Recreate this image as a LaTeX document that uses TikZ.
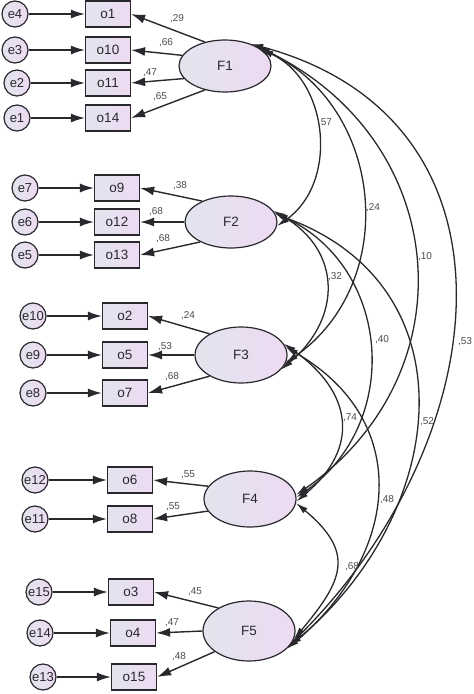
\documentclass[tikz,border=0pt]{standalone}
\usepackage{fontspec}
\setmainfont{Liberation Sans}
\usetikzlibrary{arrows.meta,
                shapes.geometric}

\definecolor{fillleft}{RGB}{226,228,238}
\definecolor{fillright}{RGB}{238,218,242}
\definecolor{inkgray}{RGB}{40,40,45}
\definecolor{labgray}{RGB}{75,75,80}

\begin{document}
\begin{tikzpicture}[x = 1pt, y = 1pt,
    err/.style = {draw=inkgray, circle, line width=1.2pt, minimum size=26pt, inner sep=0pt,
                  left color=fillleft, right color=fillright, text=inkgray,
                  font=\fontsize{13}{15}\selectfont},
    obs/.style = {draw=inkgray, rectangle, line width=1.2pt, minimum width=45pt, minimum height=26pt,
                  inner sep=0pt, left color=fillleft, right color=fillright, text=inkgray,
                  font=\fontsize{13.5}{15}\selectfont},
    lat/.style = {draw=inkgray, ellipse, line width=1.2pt, minimum width=92pt, minimum height=52pt,
                  inner sep=0pt, left color=fillleft, right color=fillright, text=inkgray,
                  font=\fontsize{13.5}{15}\selectfont},
    ldg/.style = {-{Latex[length=14pt,width=9pt]}, line width=1.4pt, draw=inkgray},
    cov/.style = {{Latex[length=12pt,width=6.5pt]}-{Latex[length=12pt,width=6.5pt]},
                  line width=1.3pt, draw=inkgray},
    lbl/.style = {font=\fontsize{10}{12}\selectfont, text=labgray, inner sep=0pt}]
\useasboundingbox (0,0) rectangle (474,-694);

% latent factors
\node (F1) [lat] at (225,-66) {F1};
\node (F2) [lat] at (231,-222) {F2};
\node (F3) [lat, minimum height=56pt] at (241,-355) {F3};
\node (F4) [lat, minimum height=56pt] at (250,-499) {F4};
\node (F5) [lat, minimum height=60pt] at (249,-631) {F5};

% items and their errors
\foreach \e/\ex/\o/\ox/\y in {e4/15/o1/108/14, e3/15/o10/108/50, e2/17/o11/108/83, e1/17/o14/108/118,
                              e7/25/o9/117/188, e6/25/o12/117/222, e5/25/o13/117/255,
                              e10/33/o2/125/316, e9/33/o5/125/355, e8/33/o7/125/393,
                              e12/35/o6/130/480, e11/35/o8/130/519,
                              e15/39/o3/131/592, e14/40/o4/133/633, e13/43/o15/134/677} {
    \node (\o) [obs] at (\ox,-\y) {\o};
    \node (\e) [err] at (\ex,-\y) {\e};
    \draw [ldg] (\e) -- (\o);
}

% loadings
\foreach \f/\a/\o/\v/\lx/\ly in {F1/130/o1/29/177/19, F1/166/o10/66/166/43, F1/197/o11/47/150/73,
                                 F1/230/o14/65/160/97,
                                 F2/144/o9/38/180/186, F2/180/o12/68/156/212, F2/213/o13/68/163/239,
                                 F3/146/o2/24/188/316, F3/180/o5/53/165/347, F3/214/o7/68/172/377,
                                 F4/163/o6/55/188/475, F4/196/o8/55/173/507,
                                 F5/143/o3/45/195/592, F5/180/o4/47/172/623, F5/211/o15/48/179/657} {
    \draw [ldg] (\f.\a) -- (\o.east);
    \node (l\o) [lbl] at (\lx,-\ly) {,\v};
}

% covariances
\foreach \a/\s/\b/\t/\u/\w/\L/\v/\lx/\ly in {F1/25/F2/355/-25/35/1.08/57/325/123,
                                            F1/30/F3/350/-25/35/1.13/24/373/208,
                                            F1/35/F4/5/-25/35/1.22/10/425/257,
                                            F1/40/F5/345/-15/45/1.24/53/465/342,
                                            F2/15/F3/340/-30/40/1.28/32/335/277,
                                            F2/12/F4/2/-25/35/1.16/40/382/340,
                                            F2/10/F5/340/-20/40/1.24/52/427/422,
                                            F3/15/F4/357/-35/40/1.36/74/350/418,
                                            F3/10/F5/335/-30/40/1.25/48/387/500,
                                            F4/355/F5/350/-40/50/1.45/68/352/567} {
    \draw [cov] (\a.\s) to[out=\u, in=\w, looseness=\L] (\b.\t);
    \node (c\a\b) [lbl] at (\lx,-\ly) {,\v};
}
\end{tikzpicture}
\end{document}
